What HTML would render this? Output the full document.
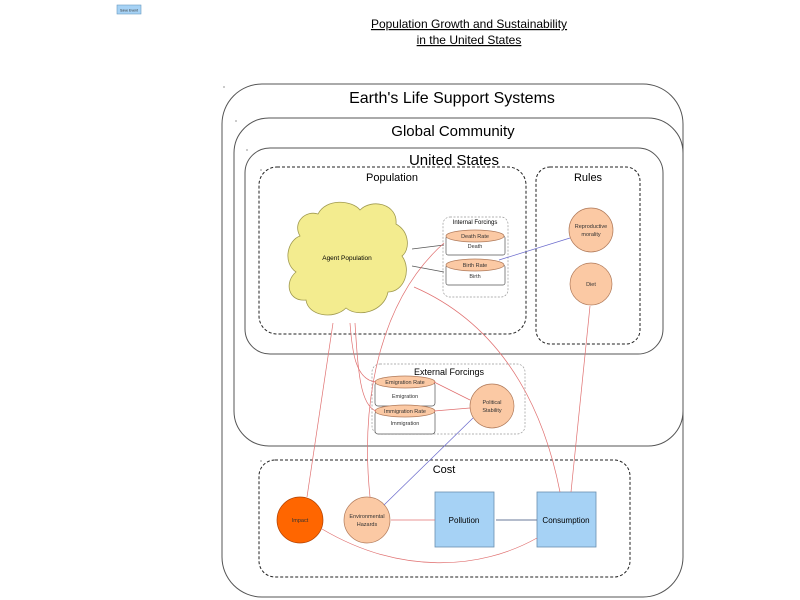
<!DOCTYPE html>
<html><head><style>body{margin:0;background:#fff}svg{display:block}text{font-family:"Liberation Sans",sans-serif}</style></head>
<body>
<svg width="800" height="600" viewBox="0 0 800 600" xmlns="http://www.w3.org/2000/svg">
<rect x="117" y="5" width="24" height="9" fill="#a6d2f5" stroke="#6a9bc0" stroke-width="0.6"/>
<text x="129" y="11.5" font-size="3.5" text-anchor="middle" fill="#333">Save Event</text>
<text x="469" y="28" font-size="12" text-anchor="middle" text-decoration="underline">Population Growth and Sustainability</text>
<text x="469" y="44" font-size="12" text-anchor="middle" text-decoration="underline">in the United States</text>
<g fill="#bbb"><circle cx="224" cy="87" r="1"/><circle cx="236" cy="121" r="1"/><circle cx="247" cy="150" r="1"/><circle cx="261" cy="170" r="1"/><circle cx="261" cy="461" r="1"/></g>
<g fill="none" stroke="#555" stroke-width="1">
<rect x="222" y="84" width="461" height="513" rx="40"/>
<rect x="234" y="118" width="449" height="328" rx="35"/>
<rect x="245" y="148" width="418" height="206" rx="25"/>
</g>
<g fill="none" stroke="#222" stroke-width="1" stroke-dasharray="3,2">
<rect x="259" y="167" width="267" height="167" rx="18"/>
<rect x="536" y="167" width="104" height="177" rx="14"/>
<rect x="259" y="460" width="371" height="117" rx="16"/>
</g>
<g fill="none" stroke="#999" stroke-width="0.7" stroke-dasharray="2,1.5">
<rect x="443" y="217" width="65" height="80" rx="7"/>
<rect x="372" y="364" width="153" height="70" rx="8"/>
</g>
<text x="452" y="103" font-size="16" text-anchor="middle">Earth's Life Support Systems</text>
<text x="453" y="136" font-size="15" text-anchor="middle">Global Community</text>
<text x="454" y="165" font-size="15" text-anchor="middle">United States</text>
<text x="392" y="181" font-size="11" text-anchor="middle">Population</text>
<text x="588" y="181" font-size="11" text-anchor="middle">Rules</text>
<text x="444" y="473" font-size="11" text-anchor="middle">Cost</text>
<text x="449" y="375" font-size="9" text-anchor="middle">External Forcings</text>
<text x="475" y="224" font-size="6" text-anchor="middle">Internal Forcings</text>
<!-- cloud -->
<path d="M318,214 C326,198 352,200 360,210 C372,198 398,204 396,224 C410,232 410,250 402,256 C412,270 404,292 388,292 C384,312 358,318 346,308 C334,320 308,316 306,300 C288,302 284,282 296,272 C282,262 288,240 300,236 C292,222 306,210 318,214 Z" fill="#f3ec8f" stroke="#a09a50" stroke-width="0.8"/>
<text x="347" y="260" font-size="6.5" text-anchor="middle">Agent Population</text>
<!-- internal forcing stocks -->
<g stroke="#555" stroke-width="0.7">
<rect x="446" y="236" width="59" height="19" rx="2" fill="#fff"/>
<rect x="446" y="265" width="59" height="20" rx="2" fill="#fff"/>
<rect x="375" y="382" width="60" height="24" rx="3" fill="#fff"/>
<rect x="375" y="411" width="60" height="23" rx="3" fill="#fff"/>
</g>
<g fill="#fbc9a4" stroke="#b07a5a" stroke-width="0.7">
<ellipse cx="475" cy="236" rx="29" ry="6"/>
<ellipse cx="475" cy="265" rx="29" ry="6"/>
<ellipse cx="405" cy="382" rx="30" ry="6"/>
<ellipse cx="405" cy="411" rx="30" ry="6"/>
<circle cx="591" cy="230" r="22"/>
<circle cx="591" cy="284" r="21"/>
<circle cx="492" cy="406" r="22"/>
<circle cx="367" cy="520" r="23"/>
</g>
<circle cx="300" cy="520" r="23" fill="#ff6600" stroke="#b04000" stroke-width="0.7"/>
<rect x="435" y="492" width="59" height="55" fill="#a6d2f5" stroke="#6a8fb0" stroke-width="0.8"/>
<rect x="537" y="492" width="59" height="55" fill="#a6d2f5" stroke="#6a8fb0" stroke-width="0.8"/>
<g font-size="5.5" text-anchor="middle" fill="#333">
<text x="475" y="238">Death Rate</text><text x="475" y="248">Death</text>
<text x="475" y="267">Birth Rate</text><text x="475" y="278">Birth</text>
<text x="405" y="384">Emigration Rate</text><text x="405" y="398">Emigration</text>
<text x="405" y="413">Immigration Rate</text><text x="405" y="425">Immigration</text>
<text x="591" y="228">Reproductive</text><text x="591" y="236">morality</text>
<text x="591" y="286">Diet</text>
<text x="492" y="404">Political</text><text x="492" y="412">Stability</text>
<text x="367" y="518">Environmental</text><text x="367" y="526">Hazards</text>
<text x="300" y="522">Impact</text>
</g>
<text x="464" y="523" font-size="8" text-anchor="middle">Pollution</text>
<text x="566" y="523" font-size="8" text-anchor="middle">Consumption</text>
<!-- connectors -->
<g fill="none" stroke-width="0.7">
<path d="M412,249 L444,245" stroke="#555"/>
<path d="M412,266 L444,272" stroke="#555"/>
<path d="M570,238 L499,260" stroke="#6a6acc"/>
<path d="M384,505 L473,418" stroke="#6a6acc"/>
<path d="M537,520 L496,520" stroke="#6a7a9a" stroke-width="1"/>
<g stroke="#e07070">
<path d="M307,497 L333,323"/>
<path d="M370,497 C360,400 380,300 444,243"/>
<path d="M560,492 C540,390 490,320 414,287"/>
<path d="M571,492 L590,306"/>
<path d="M350,323 C352,350 355,380 376,382"/>
<path d="M355,323 C358,370 360,405 376,411"/>
<path d="M470,400 L434,382"/>
<path d="M470,408 L434,411"/>
<path d="M435,520 L391,520"/>
<path d="M322,529 C400,575 480,570 537,538"/>
</g>
</g>
</svg>
</body></html>
